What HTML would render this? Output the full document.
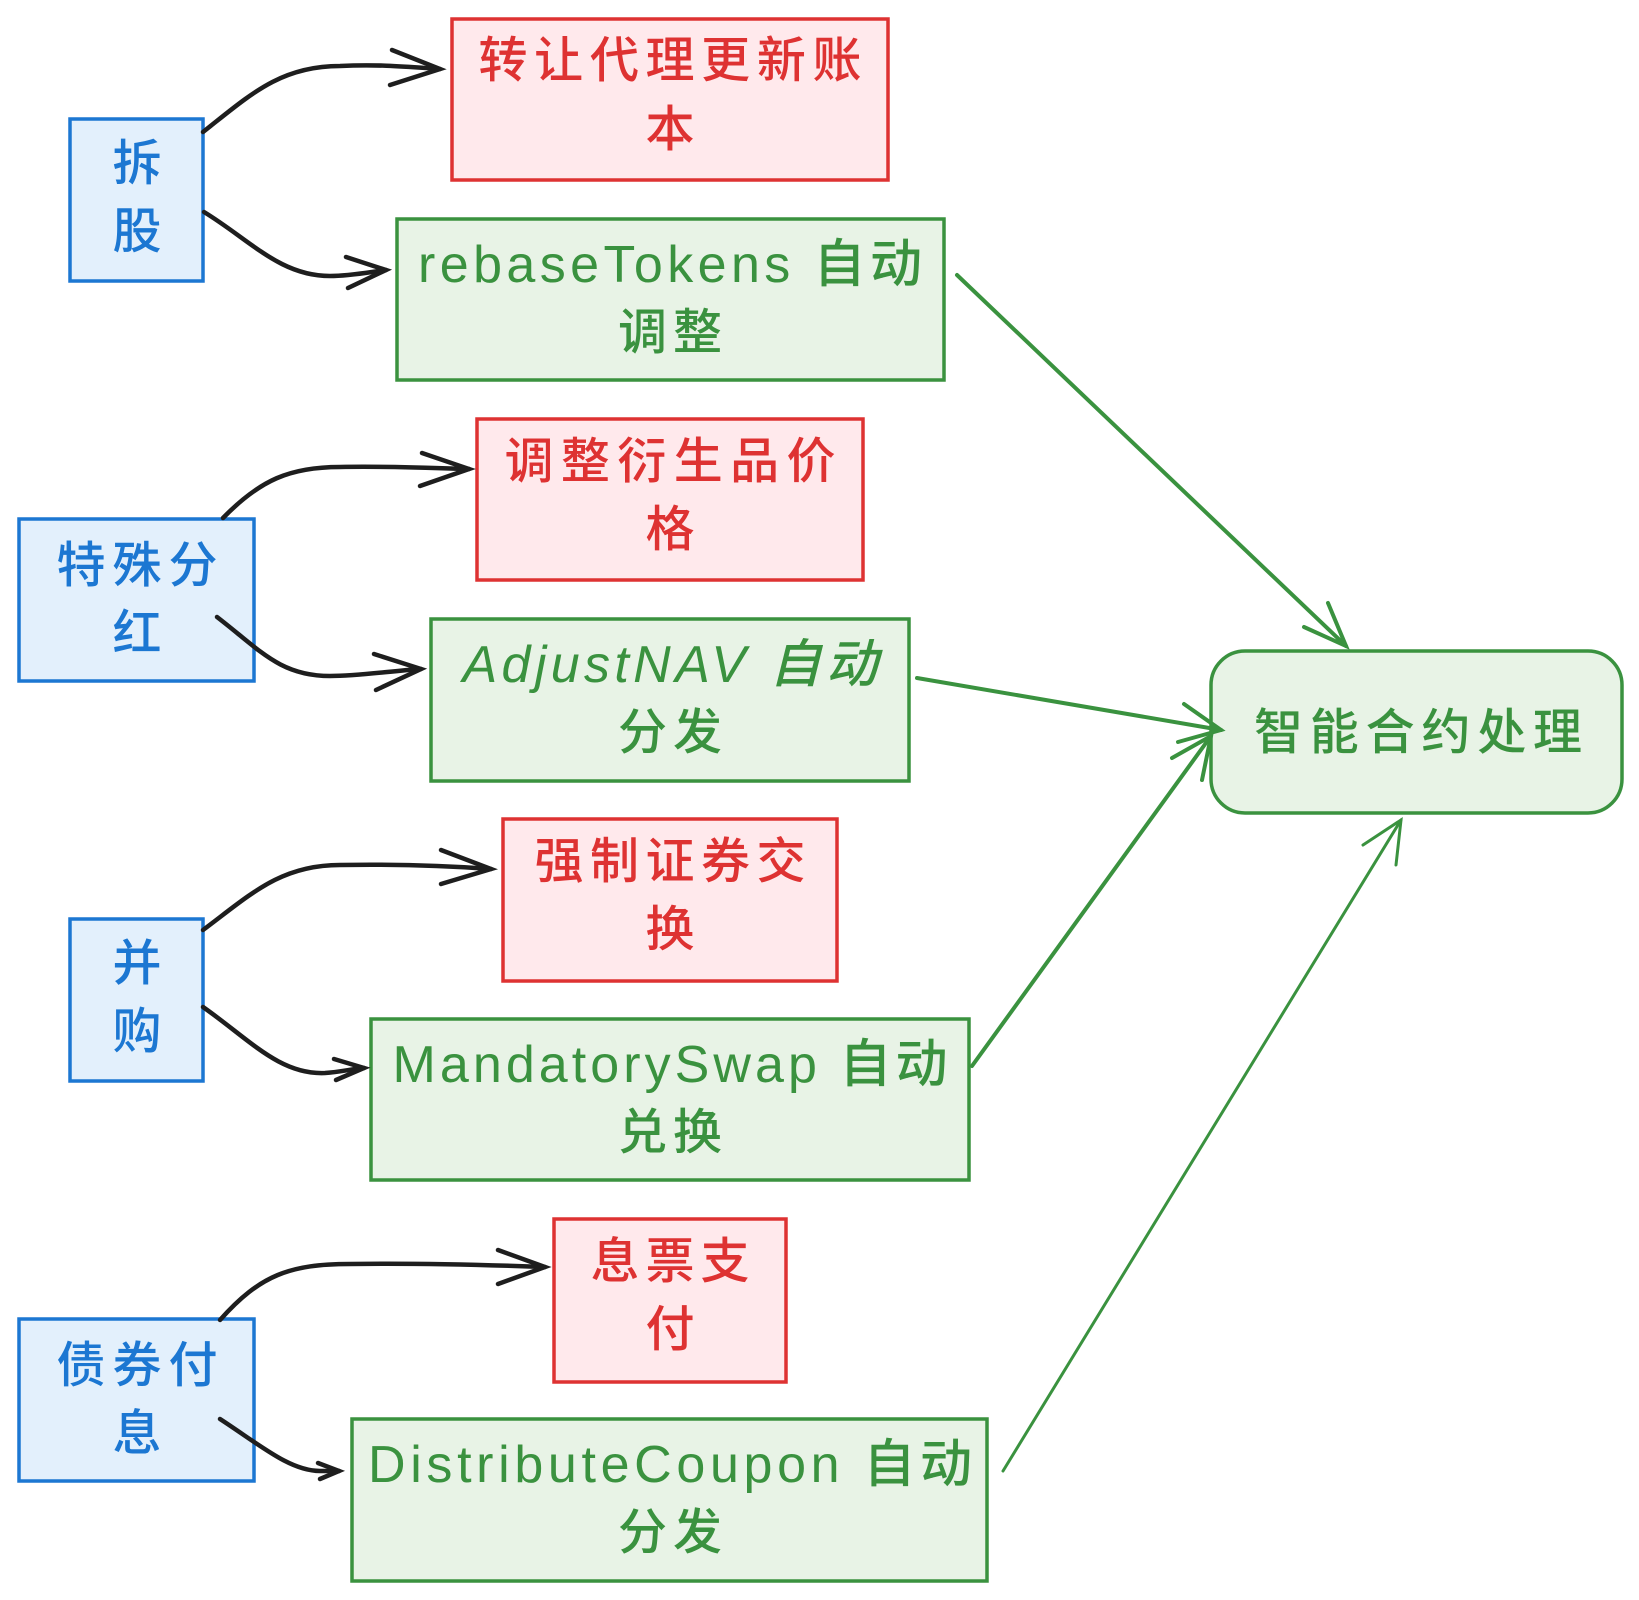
<!DOCTYPE html>
<html><head><meta charset="utf-8"><style>
html,body{margin:0;padding:0;background:#fff;}
svg{display:block;}
text{font-family:"Liberation Sans","Noto Sans CJK SC",sans-serif;font-size:49px;font-weight:500;}
.lat{font-size:52px;}
</style></head><body>
<svg width="1639" height="1600" viewBox="0 0 1639 1600" xmlns="http://www.w3.org/2000/svg">
<g stroke-width="3.5">
<rect x="70" y="119" width="133" height="162" fill="#e3f0fc" stroke="#1c77d2"/>
<rect x="19" y="519" width="235" height="162" fill="#e3f0fc" stroke="#1c77d2"/>
<rect x="70" y="919" width="133" height="162" fill="#e3f0fc" stroke="#1c77d2"/>
<rect x="19" y="1319" width="235" height="162" fill="#e3f0fc" stroke="#1c77d2"/>
<rect x="452" y="19" width="436" height="161" fill="#ffe9ec" stroke="#de3232"/>
<rect x="477" y="419" width="386" height="161" fill="#ffe9ec" stroke="#de3232"/>
<rect x="503" y="819" width="334" height="162" fill="#ffe9ec" stroke="#de3232"/>
<rect x="554" y="1219" width="232" height="163" fill="#ffe9ec" stroke="#de3232"/>
<rect x="397" y="219" width="547" height="161" fill="#e8f3e6" stroke="#3a923f"/>
<rect x="431" y="619" width="478" height="162" fill="#e8f3e6" stroke="#3a923f"/>
<rect x="371" y="1019" width="598" height="161" fill="#e8f3e6" stroke="#3a923f"/>
<rect x="352" y="1419" width="635" height="162" fill="#e8f3e6" stroke="#3a923f"/>
<rect x="1211" y="651" width="411" height="162" rx="34" fill="#e8f3e6" stroke="#3a923f"/>
</g>
<g fill="none" stroke="#1e1e1e" stroke-width="4.5" stroke-linecap="round">
<path d="M203 132 C250 95 280 66 340 66 C380 64 410 67 440 69"/>
<path d="M392 50 L440 69 L390 85"/>
<path d="M204 212 C250 240 280 276 330 276 C350 276 370 272 386 270"/>
<path d="M346 257 L386 270 L348 288"/>
<path d="M223 518 C260 480 290 467 340 467 C390 466 430 468 469 469"/>
<path d="M422 453 L469 469 L420 486"/>
<path d="M217 617 C260 650 280 676 330 676 C360 676 390 671 421 669"/>
<path d="M374 654 L421 669 L376 690"/>
<path d="M203 930 C250 895 280 865 340 865 C400 864 450 866 491 869"/>
<path d="M441 850 L491 869 L441 884"/>
<path d="M203 1007 C250 1040 280 1075 325 1073 C340 1072 352 1069 364 1068"/>
<path d="M334 1059 L364 1068 L336 1080"/>
<path d="M220 1320 C260 1275 290 1264 350 1264 C420 1263 490 1265 545 1267"/>
<path d="M498 1250 L545 1267 L498 1284"/>
<path d="M220 1419 C260 1445 290 1471 320 1471 C328 1471 334 1471 339 1471"/>
<path d="M318 1463 L339 1471 L320 1479"/>
</g>
<g fill="none" stroke="#3a923f" stroke-width="4" stroke-linecap="round">
<path d="M957 275 L1346 646"/>
<path d="M1328 603 L1346 646 L1304 627"/>
<path d="M917 678 L1221 730"/>
<path d="M1184 704 L1221 730 L1178 742"/>
<path d="M972 1066 L1211 736"/>
<path d="M1172 758 L1211 736 L1202 780"/>
<path d="M1003 1471 L1401 820" stroke-width="3"/>
<path d="M1363 845 L1401 820 L1396 865" stroke-width="3"/>
</g>
<g text-anchor="middle">
<g fill="#1c77d2">
<text x="137" y="180">拆</text><text x="137" y="248">股</text>
<text x="137" y="582" textLength="161" lengthAdjust="spacing">特殊分</text><text x="137" y="650">红</text>
<text x="137" y="980">并</text><text x="137" y="1048">购</text>
<text x="137" y="1382" textLength="161" lengthAdjust="spacing">债券付</text><text x="137" y="1450">息</text>
</g>
<g fill="#de3232">
<text x="670" y="77" textLength="383" lengthAdjust="spacing">转让代理更新账</text><text x="670" y="146">本</text>
<text x="670" y="478" textLength="331" lengthAdjust="spacing">调整衍生品价</text><text x="670" y="546">格</text>
<text x="670" y="878" textLength="271" lengthAdjust="spacing">强制证券交</text><text x="670" y="946">换</text>
<text x="670" y="1278" textLength="159" lengthAdjust="spacing">息票支</text><text x="670" y="1346">付</text>
</g>
<g fill="#3a923f">
<text class="lat" x="670" y="282" textLength="504" lengthAdjust="spacing">rebaseTokens 自动</text><text x="670" y="349" textLength="104" lengthAdjust="spacing">调整</text>
<text class="lat" x="670" y="682" textLength="415" lengthAdjust="spacing" font-style="italic">AdjustNAV 自动</text><text x="670" y="749" textLength="104" lengthAdjust="spacing">分发</text>
<text class="lat" x="670" y="1082" textLength="555" lengthAdjust="spacing">MandatorySwap 自动</text><text x="670" y="1149" textLength="104" lengthAdjust="spacing">兑换</text>
<text class="lat" x="670" y="1482" textLength="604" lengthAdjust="spacing">DistributeCoupon 自动</text><text x="670" y="1549" textLength="104" lengthAdjust="spacing">分发</text>
<text x="1418" y="749" textLength="328" lengthAdjust="spacing">智能合约处理</text>
</g>
</g>
</svg>
</body></html>
